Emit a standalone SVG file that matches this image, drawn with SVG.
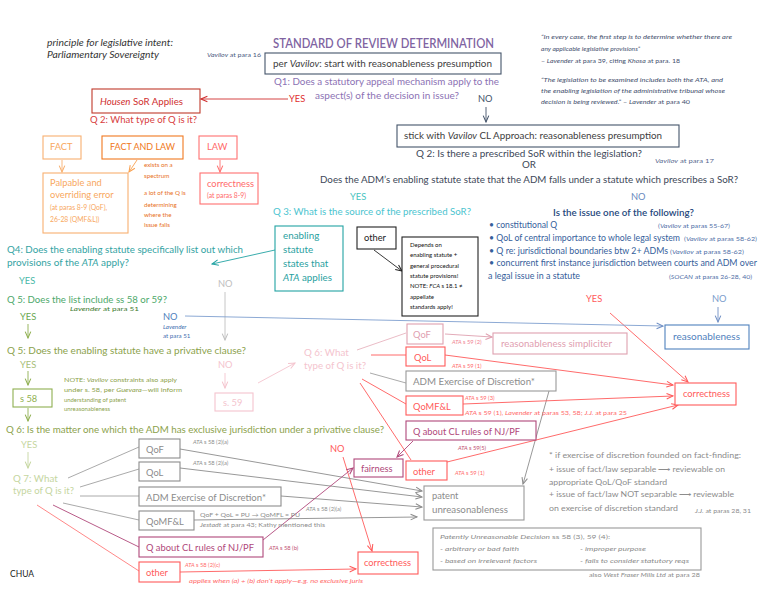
<svg xmlns="http://www.w3.org/2000/svg" width="768" height="594" viewBox="0 0 768 594" font-size="9.3">
<style>
text{font-family:Lato,"Liberation Sans",sans-serif}
.i{font-style:italic}
.q{font-size:9.8px}
.sm{font-size:6.2px}
.xs{font-size:5.8px;font-style:italic}
.b{fill:#fff;stroke-width:1.1}
.c{fill:none;stroke-width:0.9}
</style>
<defs>
<marker id="mr" viewBox="0 0 10 10" refX="9" refY="5" markerWidth="8" markerHeight="8" markerUnits="userSpaceOnUse" orient="auto"><path d="M1,1.5 L9,5 L1,8.5" fill="none" stroke="#FF5A5A" stroke-width="1.3"/></marker>
<marker id="mdr" viewBox="0 0 10 10" refX="9" refY="5" markerWidth="8" markerHeight="8" markerUnits="userSpaceOnUse" orient="auto"><path d="M1,1.5 L9,5 L1,8.5" fill="none" stroke="#D03030" stroke-width="1.3"/></marker>
<marker id="mg" viewBox="0 0 10 10" refX="9" refY="5" markerWidth="8" markerHeight="8" markerUnits="userSpaceOnUse" orient="auto"><path d="M1,1.5 L9,5 L1,8.5" fill="none" stroke="#8C8C8C" stroke-width="1.3"/></marker>
<marker id="mlg" viewBox="0 0 10 10" refX="9" refY="5" markerWidth="8" markerHeight="8" markerUnits="userSpaceOnUse" orient="auto"><path d="M1,1.5 L9,5 L1,8.5" fill="none" stroke="#C0C0C0" stroke-width="1.3"/></marker>
<marker id="mb" viewBox="0 0 10 10" refX="9" refY="5" markerWidth="8" markerHeight="8" markerUnits="userSpaceOnUse" orient="auto"><path d="M1,1.5 L9,5 L1,8.5" fill="none" stroke="#6F8FC4" stroke-width="1.3"/></marker>
<marker id="mdb" viewBox="0 0 10 10" refX="9" refY="5" markerWidth="8" markerHeight="8" markerUnits="userSpaceOnUse" orient="auto"><path d="M1,1.5 L9,5 L1,8.5" fill="none" stroke="#44546A" stroke-width="1.3"/></marker>
<marker id="mt" viewBox="0 0 10 10" refX="9" refY="5" markerWidth="8" markerHeight="8" markerUnits="userSpaceOnUse" orient="auto"><path d="M1,1.5 L9,5 L1,8.5" fill="none" stroke="#22A3A3" stroke-width="1.3"/></marker>
<marker id="mm" viewBox="0 0 10 10" refX="9" refY="5" markerWidth="8" markerHeight="8" markerUnits="userSpaceOnUse" orient="auto"><path d="M1,1.5 L9,5 L1,8.5" fill="none" stroke="#B0487A" stroke-width="1.3"/></marker>
<marker id="mp" viewBox="0 0 10 10" refX="9" refY="5" markerWidth="8" markerHeight="8" markerUnits="userSpaceOnUse" orient="auto"><path d="M1,1.5 L9,5 L1,8.5" fill="none" stroke="#DFA0B0" stroke-width="1.3"/></marker>
<marker id="mlp" viewBox="0 0 10 10" refX="9" refY="5" markerWidth="8" markerHeight="8" markerUnits="userSpaceOnUse" orient="auto"><path d="M1,1.5 L9,5 L1,8.5" fill="none" stroke="#F4C4CE" stroke-width="1.3"/></marker>
<marker id="mo" viewBox="0 0 10 10" refX="9" refY="5" markerWidth="8" markerHeight="8" markerUnits="userSpaceOnUse" orient="auto"><path d="M1,1.5 L9,5 L1,8.5" fill="none" stroke="#F8B070" stroke-width="1.3"/></marker>
<marker id="mof" viewBox="0 0 10 10" refX="9" refY="5" markerWidth="8" markerHeight="8" markerUnits="userSpaceOnUse" orient="auto"><path d="M1,1.5 L9,5 L1,8.5" fill="none" stroke="#F8A050" stroke-width="1.3"/></marker>
<marker id="ml" viewBox="0 0 10 10" refX="9" refY="5" markerWidth="8" markerHeight="8" markerUnits="userSpaceOnUse" orient="auto"><path d="M1,1.5 L9,5 L1,8.5" fill="none" stroke="#FF7070" stroke-width="1.3"/></marker>
<marker id="mol" viewBox="0 0 10 10" refX="9" refY="5" markerWidth="8" markerHeight="8" markerUnits="userSpaceOnUse" orient="auto"><path d="M1,1.5 L9,5 L1,8.5" fill="none" stroke="#8FAF50" stroke-width="1.3"/></marker>
<marker id="moll" viewBox="0 0 10 10" refX="9" refY="5" markerWidth="8" markerHeight="8" markerUnits="userSpaceOnUse" orient="auto"><path d="M1,1.5 L9,5 L1,8.5" fill="none" stroke="#C5D6A0" stroke-width="1.3"/></marker>
<marker id="mk" viewBox="0 0 10 10" refX="9" refY="5" markerWidth="8" markerHeight="8" markerUnits="userSpaceOnUse" orient="auto"><path d="M1,1.5 L9,5 L1,8.5" fill="none" stroke="#222" stroke-width="1.3"/></marker>
</defs>
<rect width="768" height="594" fill="#fff"/>

<g id="connectors" class="c">
<line x1="288" y1="99" x2="201" y2="99" stroke="#D03030" marker-end="url(#mdr)"/>
<line x1="62" y1="160" x2="62" y2="172" stroke="#F8B070" marker-end="url(#mo)"/>
<line x1="137" y1="160" x2="129" y2="172" stroke="#F8A050" marker-end="url(#mof)"/>
<line x1="220" y1="160" x2="220" y2="172" stroke="#FF7070" marker-end="url(#ml)"/>
<line x1="486" y1="107" x2="486" y2="122" stroke="#44546A" marker-end="url(#mdb)"/>
<line x1="275" y1="250" x2="212" y2="264" stroke="#22A3A3" marker-end="url(#mt)"/>
<line x1="374" y1="250" x2="402" y2="271" stroke="#222" marker-end="url(#mk)"/>
<line x1="718" y1="307" x2="718" y2="322" stroke="#6F8FC4" marker-end="url(#mb)"/>
<line x1="610" y1="313" x2="688" y2="382" stroke="#FF5A5A" marker-end="url(#mr)"/>
<line x1="225" y1="292" x2="225" y2="340" stroke="#C0C0C0" marker-end="url(#mlg)"/>
<line x1="28" y1="324" x2="28" y2="338" stroke="#8FAF50" marker-end="url(#mol)"/>
<line x1="185" y1="316" x2="663" y2="326" stroke="#7F9FCF" marker-end="url(#mb)"/>
<line x1="28" y1="371" x2="28" y2="385" stroke="#8FAF50" marker-end="url(#mol)"/>
<line x1="225" y1="373" x2="225" y2="388" stroke="#F4C4CE" marker-end="url(#mlp)"/>
<line x1="28" y1="408" x2="28" y2="421" stroke="#8FAF50" marker-end="url(#mol)"/>
<line x1="258" y1="383" x2="295" y2="363" stroke="#F4C4CE" marker-end="url(#mlp)"/>
<line x1="357" y1="350" x2="406" y2="333" stroke="#E8B4C0"/>
<line x1="371" y1="355" x2="406" y2="355" stroke="#FF5A5A"/>
<line x1="370" y1="373" x2="406" y2="383" stroke="#A0A0A0"/>
<line x1="362" y1="379" x2="406" y2="404" stroke="#FF5A5A"/>
<line x1="360" y1="383" x2="411" y2="460" stroke="#FF5A5A"/>
<line x1="445" y1="334" x2="492" y2="337" stroke="#DFA0B0" marker-end="url(#mp)"/>
<line x1="445" y1="355" x2="673" y2="385" stroke="#FF5A5A" marker-end="url(#mr)"/>
<line x1="549" y1="391" x2="523" y2="484" stroke="#8C8C8C" marker-end="url(#mg)"/>
<line x1="463" y1="404" x2="673" y2="396" stroke="#FF5A5A" marker-end="url(#mr)"/>
<line x1="413" y1="441" x2="397" y2="457" stroke="#B0487A" marker-end="url(#mm)"/>
<line x1="447" y1="462" x2="678" y2="405" stroke="#FF5A5A" marker-end="url(#mr)"/>
<line x1="343" y1="457" x2="372" y2="551" stroke="#FF5A5A" marker-end="url(#mr)"/>
<line x1="28" y1="452" x2="28" y2="468" stroke="#C5D6A0" marker-end="url(#moll)"/>
<line x1="68" y1="478" x2="139" y2="447" stroke="#A0A0A0"/>
<line x1="80" y1="487" x2="139" y2="469" stroke="#A0A0A0"/>
<line x1="80" y1="496" x2="139" y2="496" stroke="#A0A0A0"/>
<line x1="63" y1="503" x2="139" y2="520" stroke="#A0A0A0"/>
<line x1="53" y1="505" x2="139" y2="547" stroke="#B0487A"/>
<line x1="37" y1="505" x2="139" y2="571" stroke="#FF7A7A"/>
<line x1="180" y1="449" x2="422" y2="491" stroke="#8C8C8C" marker-end="url(#mg)"/>
<line x1="180" y1="468" x2="422" y2="497" stroke="#8C8C8C" marker-end="url(#mg)"/>
<line x1="281" y1="496" x2="422" y2="507" stroke="#8C8C8C" marker-end="url(#mg)"/>
<line x1="194" y1="520" x2="417" y2="517" stroke="#8C8C8C" marker-end="url(#mg)"/>
<line x1="263" y1="540" x2="353" y2="468" stroke="#B0487A" marker-end="url(#mm)"/>
<line x1="180" y1="572" x2="356" y2="569" stroke="#FF5A5A" marker-end="url(#mr)"/>
</g>

<g id="title">
<text x="273" y="48" font-size="13.5" font-weight="600" fill="#8064A2" textLength="221" lengthAdjust="spacingAndGlyphs">STANDARD OF REVIEW DETERMINATION</text>
</g>
<g id="principle">
<text class="i" x="47" y="46" font-size="8.6" fill="#333" textLength="126" lengthAdjust="spacingAndGlyphs">principle for legislative intent:</text>
<text class="i" x="47" y="58" font-size="8.6" fill="#333" textLength="112" lengthAdjust="spacingAndGlyphs">Parliamentary Sovereignty</text>
</g>
<g id="quotes">
<text class="i" x="541" y="39" font-size="6.4" fill="#44506E" textLength="191" lengthAdjust="spacingAndGlyphs">“In every case, the first step is to determine whether there are</text>
<text class="i" x="541" y="51" font-size="6.4" fill="#44506E" textLength="99" lengthAdjust="spacingAndGlyphs">any applicable legislative provisions”</text>
<text x="541" y="63" font-size="6.4" fill="#44506E" textLength="139" lengthAdjust="spacingAndGlyphs">–  <tspan class="i">Lavender</tspan> at para 39, citing <tspan class="i">Khosa</tspan> at para. 18</text>
<text class="i" x="541" y="82" font-size="6.4" fill="#44506E" textLength="182" lengthAdjust="spacingAndGlyphs">“The legislation to be examined includes both the ATA, and</text>
<text class="i" x="541" y="93" font-size="6.4" fill="#44506E" textLength="184" lengthAdjust="spacingAndGlyphs">the enabling legislation of the administrative tribunal whose</text>
<text x="541" y="104" font-size="6.4" fill="#44506E" textLength="149" lengthAdjust="spacingAndGlyphs"><tspan class="i">decision is being reviewed.”</tspan> – <tspan class="i">Lavender</tspan> at para 40</text>
</g>

<g id="start">
<text class="sm" x="207" y="57" fill="#4A5A80" textLength="54" lengthAdjust="spacingAndGlyphs"><tspan class="i">Vavilov</tspan> at para 16</text>
<rect class="b" x="265" y="53" width="236" height="21" stroke="#44546A"/>
<text x="273" y="67" fill="#404040" textLength="219" lengthAdjust="spacingAndGlyphs">per <tspan class="i">Vavilov</tspan>: start with reasonableness presumption</text>
</g>
<g id="q1">
<text class="q" x="274" y="85" fill="#8C72B4" textLength="225" lengthAdjust="spacingAndGlyphs">Q1: Does a statutory appeal mechanism apply to the</text>
<text class="q" x="315" y="99" fill="#8C72B4" textLength="144" lengthAdjust="spacingAndGlyphs">aspect(s) of the decision in issue?</text>
<text x="289" y="102" fill="#E03030">YES</text>
<text x="478" y="102" fill="#44546A">NO</text>
</g>
<g id="housen">
<rect class="b" x="92" y="89" width="108" height="24" stroke="#C0392B"/>
<text x="100" y="105" fill="#D03030" textLength="83" lengthAdjust="spacingAndGlyphs"><tspan class="i">Housen</tspan> SoR Applies</text>
<text class="q" x="90" y="123" fill="#D84040" textLength="107" lengthAdjust="spacingAndGlyphs">Q 2: What type of Q is it?</text>
</g>
<g id="fact">
<rect class="b" x="43" y="136" width="38" height="23" stroke="#F8B070"/>
<text x="50" y="150" fill="#F8A860">FACT</text>
</g>
<g id="factlaw">
<rect class="b" x="102" y="136" width="81" height="23" stroke="#F07820"/>
<text x="110" y="150" fill="#F07820" textLength="65" lengthAdjust="spacingAndGlyphs">FACT AND LAW</text>
</g>
<g id="law">
<rect class="b" x="199" y="136" width="38" height="23" stroke="#FF7070"/>
<text x="207" y="150" fill="#FF6A6A">LAW</text>
</g>
<g id="palpable">
<rect class="b" x="43" y="173" width="85" height="60" stroke="#F8B070"/>
<text x="50" y="186" fill="#F8A860">Palpable and</text>
<text x="50" y="198" fill="#F8A860">overriding error</text>
<text x="50" y="210" font-size="6.8" fill="#F8A860">(at paras 8-9 (QoF),</text>
<text x="50" y="222" font-size="6.8" fill="#F8A860">26-28 (QMF&amp;L))</text>
</g>
<g id="spectrum">
<text class="sm" x="144" y="167" fill="#E8701A">exists on a</text>
<text class="sm" x="144" y="178" fill="#E8701A">spectrum</text>
<text class="sm" x="144" y="195" fill="#E8701A">a lot of the Q is</text>
<text class="sm" x="144" y="207" fill="#E8701A">determining</text>
<text class="sm" x="144" y="217" fill="#E8701A">where the</text>
<text class="sm" x="144" y="227" fill="#E8701A">issue falls</text>
</g>
<g id="correctness-law">
<rect class="b" x="200" y="173" width="58" height="31" stroke="#FF7070"/>
<text x="207" y="187" fill="#FF6A6A">correctness</text>
<text x="207" y="198" font-size="6.8" fill="#FF6A6A">(at paras 8-9)</text>
</g>

<g id="stick">
<rect class="b" x="397" y="125" width="282" height="22" stroke="#44546A"/>
<text x="404" y="139" fill="#404040" textLength="258" lengthAdjust="spacingAndGlyphs">stick with <tspan class="i">Vavilov</tspan> CL Approach: reasonableness presumption</text>
</g>
<g id="q2">
<text class="q" x="416" y="157" fill="#404858" textLength="226" lengthAdjust="spacingAndGlyphs">Q 2: Is there a prescribed SoR within the legislation?</text>
<text class="q" x="522" y="168" fill="#404858">OR</text>
<text class="sm" x="655" y="163" fill="#5A6A90" textLength="59" lengthAdjust="spacingAndGlyphs"><tspan class="i">Vavilov</tspan> at para 17</text>
<text class="q" x="320" y="183" fill="#404858" textLength="418" lengthAdjust="spacingAndGlyphs">Does the ADM’s enabling statute state that the ADM falls under a statute which prescribes a SoR?</text>
<text x="350" y="200" fill="#48C4C0">YES</text>
<text x="631" y="200" fill="#6A8AC0">NO</text>
</g>
<g id="q3">
<text class="q" x="273" y="215" fill="#4CC4CF" textLength="198" lengthAdjust="spacingAndGlyphs">Q 3: What is the source of the prescribed SoR?</text>
</g>
<g id="enabling">
<rect class="b" x="275" y="226" width="68" height="65" stroke="#22A3A3"/>
<text class="q" x="283" y="239" fill="#2A9F9F">enabling</text>
<text class="q" x="283" y="253" fill="#2A9F9F">statute</text>
<text class="q" x="283" y="267" fill="#2A9F9F">states that</text>
<text class="q" x="283" y="281" fill="#2A9F9F"><tspan class="i">ATA</tspan> applies</text>
</g>
<g id="other-src">
<rect class="b" x="357" y="227" width="39" height="22" stroke="#222"/>
<text x="364" y="241" fill="#222">other</text>
</g>
<g id="note-depends">
<rect class="b" x="402" y="237" width="76" height="79" stroke="#222" stroke-width="1.3"/>
<text x="410" y="247" font-size="6" fill="#111">Depends on</text>
<text x="410" y="257" font-size="6" fill="#111">enabling statute +</text>
<text x="410" y="268" font-size="6" fill="#111">general procedural</text>
<text x="410" y="278" font-size="6" fill="#111">statute provisions!</text>
<text x="410" y="288" font-size="6" fill="#111">NOTE: <tspan class="i">FCA</tspan> s 18.1 ≠</text>
<text x="410" y="299" font-size="6" fill="#111">appellate</text>
<text x="410" y="309" font-size="6" fill="#111">standards apply!</text>
</g>
<g id="issue-list">
<text x="553" y="216" font-size="10" font-weight="600" fill="#1F497D" textLength="141" lengthAdjust="spacingAndGlyphs">Is the issue one of the following?</text>
<text x="489" y="228" font-size="8.6" fill="#35609B">• constitutional Q</text>
<text x="658" y="228" font-size="5.6" fill="#5070A8" textLength="72" lengthAdjust="spacingAndGlyphs">(<tspan class="i">Vavilov</tspan> at paras 55-67)</text>
<text x="489" y="241" font-size="8.6" fill="#35609B" textLength="191" lengthAdjust="spacingAndGlyphs">• QoL of central importance to whole legal system</text>
<text x="684" y="241" font-size="5.6" fill="#5070A8" textLength="73" lengthAdjust="spacingAndGlyphs">(<tspan class="i">Vavilov</tspan> at paras 58-62)</text>
<text x="489" y="254" font-size="8.6" fill="#35609B" textLength="179" lengthAdjust="spacingAndGlyphs">• Q re: jurisdictional boundaries btw 2+ ADMs</text>
<text x="670" y="254" font-size="5.6" fill="#5070A8" textLength="74" lengthAdjust="spacingAndGlyphs">(<tspan class="i">Vavilov</tspan> at paras 58-62)</text>
<text x="489" y="266" font-size="8.6" fill="#35609B" textLength="268" lengthAdjust="spacingAndGlyphs">• concurrent first instance jurisdiction between courts and ADM over</text>
<text x="488" y="279" font-size="8.6" fill="#35609B" textLength="92" lengthAdjust="spacingAndGlyphs">a legal issue in a statute</text>
<text x="669" y="279" font-size="5.6" fill="#5070A8" textLength="83" lengthAdjust="spacingAndGlyphs">(<tspan class="i">SOCAN</tspan> at paras 26-28, 40)</text>
<text x="586" y="302" fill="#FF5A5A">YES</text>
<text x="712" y="302" fill="#7C9CCC">NO</text>
</g>
<g id="reasonableness">
<rect class="b" x="665" y="325" width="84" height="24" stroke="#4F81BD"/>
<text x="673" y="340" fill="#4F81BD" textLength="67" lengthAdjust="spacingAndGlyphs">reasonableness</text>
</g>
<g id="correctness-main">
<rect class="b" x="675" y="383" width="61" height="22" stroke="#FF5A5A" stroke-width="1.3"/>
<text x="683" y="397" fill="#FF5A5A" textLength="47" lengthAdjust="spacingAndGlyphs">correctness</text>
</g>

<g id="q4">
<text class="q" x="7" y="253" fill="#33A3A3" textLength="236" lengthAdjust="spacingAndGlyphs">Q4: Does the enabling statute specifically list out which</text>
<text class="q" x="7" y="266" fill="#33A3A3" textLength="122" lengthAdjust="spacingAndGlyphs">provisions of the <tspan class="i">ATA</tspan> apply?</text>
<text x="19" y="284" fill="#48B8A8">YES</text>
<text x="218" y="287" fill="#C0C0C0">NO</text>
</g>
<g id="q5-list">
<text class="q" x="7" y="303" fill="#4DA86A" textLength="160" lengthAdjust="spacingAndGlyphs">Q 5: Does the list include ss 58 or 59?</text>
<text class="sm" x="70" y="311" fill="#3E7A2E" textLength="69" lengthAdjust="spacingAndGlyphs"><tspan class="i">Lavender</tspan> at para 51</text>
<text x="20" y="320" fill="#6AA84F">YES</text>
<text x="163" y="320" fill="#4F81BD">NO</text>
<text class="sm i" x="163" y="329" fill="#3F6FB0">Lavender</text>
<text class="sm" x="163" y="338" fill="#3F6FB0">at para 51</text>
</g>
<g id="q5-privative">
<text class="q" x="7" y="354" fill="#8CA24C" textLength="239" lengthAdjust="spacingAndGlyphs">Q 5: Does the enabling statute have a privative clause?</text>
<text x="20" y="368" fill="#A8BE78">YES</text>
<text x="218" y="368" fill="#F4C4CE">NO</text>
<text x="64" y="382" font-size="5.9" fill="#8CA24C" textLength="113" lengthAdjust="spacingAndGlyphs">NOTE: <tspan class="i">Vavilov</tspan> constraints also apply</text>
<text x="64" y="392" font-size="5.9" fill="#8CA24C" textLength="118" lengthAdjust="spacingAndGlyphs">under s. 58, per <tspan class="i">Guevara</tspan>—will inform</text>
<text x="64" y="402" font-size="5.9" fill="#8CA24C">understanding of patent</text>
<text x="64" y="411" font-size="5.9" fill="#8CA24C">unreasonableness</text>
</g>
<g id="s58">
<rect class="b" x="13" y="389" width="39" height="18" stroke="#8FAF50"/>
<text x="20" y="402" fill="#8FAF50">s 58</text>
</g>
<g id="s59">
<rect class="b" x="215" y="393" width="38" height="18" stroke="#F4C4CE"/>
<text x="223" y="406" fill="#F4C4CE">s. 59</text>
</g>
<g id="q6-type">
<text class="q" x="304" y="356" fill="#F4C4CE">Q 6: What</text>
<text class="q" x="304" y="369" fill="#F4C4CE" textLength="62" lengthAdjust="spacingAndGlyphs">type of Q is it?</text>
</g>
<g id="q6-qof">
<rect class="b" x="407" y="324" width="36" height="20" stroke="#DFA0B0"/>
<text x="413" y="338" fill="#DFA0B0">QoF</text>
<text class="xs" x="452" y="344" fill="#F08090">ATA <tspan font-style="normal">s 59 (2)</tspan></text>
</g>
<g id="simpliciter">
<rect class="b" x="493" y="333" width="134" height="21" stroke="#DFA0B0"/>
<text x="501" y="347" fill="#DFA0B0" textLength="111" lengthAdjust="spacingAndGlyphs">reasonableness simpliciter</text>
</g>
<g id="q6-qol">
<rect class="b" x="406" y="347" width="39" height="19" stroke="#FF5A5A" stroke-width="1.3"/>
<text x="414" y="361" fill="#FF5A5A">QoL</text>
<text class="xs" x="452" y="368" fill="#FF6A6A">ATA <tspan font-style="normal">s 59 (1)</tspan></text>
</g>
<g id="q6-adm">
<rect class="b" x="406" y="371" width="150" height="20" stroke="#999"/>
<text x="413" y="385" fill="#8C8C8C" textLength="122" lengthAdjust="spacingAndGlyphs">ADM Exercise of Discretion*</text>
</g>
<g id="q6-qomfl">
<rect class="b" x="406" y="396" width="57" height="19" stroke="#FF5A5A" stroke-width="1.3"/>
<text x="413" y="410" fill="#FF5A5A">QoMF&amp;L</text>
<text class="xs" x="465" y="400" fill="#FF6A6A">ATA <tspan font-style="normal">s 59 (3)</tspan></text>
<text class="xs" x="465" y="415" fill="#FF6A6A" textLength="162" lengthAdjust="spacingAndGlyphs">ATA <tspan font-style="normal">s 59 (1), </tspan>Lavender<tspan font-style="normal"> at paras 53, 58; </tspan>J.J.<tspan font-style="normal"> at para 25</tspan></text>
</g>
<g id="q6-cl">
<rect class="b" x="406" y="421" width="130" height="19" stroke="#B0487A"/>
<text x="413" y="435" fill="#B0487A" textLength="107" lengthAdjust="spacingAndGlyphs">Q about CL rules of NJ/PF</text>
<text class="xs" x="458" y="450" fill="#C05070">ATA <tspan font-style="normal">s 59(5)</tspan></text>
</g>
<g id="q6-other">
<rect class="b" x="406" y="461" width="41" height="19" stroke="#FF5A5A" stroke-width="1.3"/>
<text x="413" y="475" fill="#FF5A5A">other</text>
<text class="xs" x="455" y="475" fill="#FF6A6A">ATA <tspan font-style="normal">s 59 (1)</tspan></text>
</g>
<g id="fairness">
<rect class="b" x="354" y="459" width="49" height="18" stroke="#B0487A" stroke-width="1.3"/>
<text x="361" y="472" fill="#B0487A">fairness</text>
</g>
<g id="q6-exclusive">
<text class="q" x="6" y="433" fill="#8CA24C" textLength="378" lengthAdjust="spacingAndGlyphs">Q 6: Is the matter one which the ADM has exclusive jurisdiction under a privative clause?</text>
<text x="21" y="448" fill="#C5D6A0">YES</text>
<text x="330" y="452" fill="#FF5A5A">NO</text>
</g>
<g id="correctness-bottom">
<rect class="b" x="358" y="552" width="60" height="22" stroke="#FF5A5A" stroke-width="1.3"/>
<text x="364" y="566" fill="#FF5A5A" textLength="47" lengthAdjust="spacingAndGlyphs">correctness</text>
</g>
<g id="patent">
<rect class="b" x="424" y="486" width="100" height="34" stroke="#999"/>
<text x="432" y="499" fill="#8C8C8C">patent</text>
<text x="432" y="513" fill="#8C8C8C" textLength="76" lengthAdjust="spacingAndGlyphs">unreasonableness</text>
</g>
<g id="footnote">
<text x="549" y="458" font-size="8" fill="#8C8C8C" textLength="192" lengthAdjust="spacingAndGlyphs">* if exercise of discretion founded on fact-finding:</text>
<text x="549" y="472" font-size="8" fill="#8C8C8C" textLength="176" lengthAdjust="spacingAndGlyphs">+ issue of fact/law separable ⟶ reviewable on</text>
<text x="549" y="485" font-size="8" fill="#8C8C8C" textLength="118" lengthAdjust="spacingAndGlyphs">appropriate QoL/QoF standard</text>
<text x="549" y="497" font-size="8" fill="#8C8C8C" textLength="185" lengthAdjust="spacingAndGlyphs">+ issue of fact/law NOT separable ⟶ reviewable</text>
<text x="549" y="511" font-size="8" fill="#8C8C8C" textLength="129" lengthAdjust="spacingAndGlyphs">on exercise of discretion standard</text>
<text x="695" y="513" font-size="5.6" fill="#8C8C8C" textLength="56" lengthAdjust="spacingAndGlyphs"><tspan class="i">J.J.</tspan> at paras 28, 31</text>
</g>
<g id="pu-box">
<rect class="b" x="433" y="528" width="268" height="42" stroke="#999"/>
<text x="440" y="539" font-size="6.3" fill="#8C8C8C" textLength="170" lengthAdjust="spacingAndGlyphs"><tspan class="i">Patently Unreasonable Decision</tspan> ss 58 (3), 59 (4):</text>
<text class="i" x="440" y="551" font-size="6.3" fill="#8C8C8C" textLength="79" lengthAdjust="spacingAndGlyphs">- arbitrary or bad faith</text>
<text class="i" x="440" y="563" font-size="6.3" fill="#8C8C8C" textLength="97" lengthAdjust="spacingAndGlyphs">- based on irrelevant factors</text>
<text class="i" x="580" y="551" font-size="6.3" fill="#8C8C8C" textLength="66" lengthAdjust="spacingAndGlyphs">- improper purpose</text>
<text class="i" x="580" y="563" font-size="6.3" fill="#8C8C8C" textLength="109" lengthAdjust="spacingAndGlyphs">- fails to consider statutory reqs</text>
<text x="589" y="577" font-size="5.6" fill="#8C8C8C" textLength="111" lengthAdjust="spacingAndGlyphs">also <tspan class="i">West Fraser Mills Ltd</tspan> at para 28</text>
</g>
<g id="q7">
<text class="q" x="13" y="482" fill="#C5D6A0">Q 7: What</text>
<text class="q" x="13" y="494" fill="#C5D6A0" textLength="61" lengthAdjust="spacingAndGlyphs">type of Q is it?</text>
</g>
<g id="q7-qof">
<rect class="b" x="139" y="439" width="41" height="19" stroke="#8C8C8C"/>
<text x="146" y="453" fill="#8C8C8C">QoF</text>
<text class="xs" x="193" y="444" fill="#8C8C8C">ATA <tspan font-style="normal">s 58 (2)(a)</tspan></text>
</g>
<g id="q7-qol">
<rect class="b" x="139" y="462" width="41" height="19" stroke="#8C8C8C"/>
<text x="146" y="476" fill="#8C8C8C">QoL</text>
<text class="xs" x="193" y="465" fill="#8C8C8C">ATA <tspan font-style="normal">s 58 (2)(a)</tspan></text>
</g>
<g id="q7-adm">
<rect class="b" x="139" y="487" width="142" height="19" stroke="#8C8C8C"/>
<text x="146" y="501" fill="#8C8C8C" textLength="120" lengthAdjust="spacingAndGlyphs">ADM Exercise of Discretion*</text>
<text class="xs" x="306" y="511" fill="#8C8C8C">ATA <tspan font-style="normal">s 58 (2)(a)</tspan></text>
</g>
<g id="q7-qomfl">
<rect class="b" x="139" y="511" width="55" height="19" stroke="#8C8C8C"/>
<text x="146" y="525" fill="#8C8C8C">QoMF&amp;L</text>
<text x="200" y="517" font-size="5.7" fill="#8C8C8C" textLength="100" lengthAdjust="spacingAndGlyphs">QoF + QoL = PU →  QoMFL = PU</text>
<text x="200" y="527" font-size="5.7" fill="#8C8C8C" textLength="125" lengthAdjust="spacingAndGlyphs"><tspan class="i">Jestadt</tspan> at para 43; Kathy mentioned this</text>
</g>
<g id="q7-cl">
<rect class="b" x="139" y="537" width="124" height="20" stroke="#B0487A"/>
<text x="146" y="551" fill="#B0487A" textLength="108" lengthAdjust="spacingAndGlyphs">Q about CL rules of NJ/PF</text>
<text class="xs" x="269" y="550" fill="#C05070">ATA <tspan font-style="normal">s 58 (b)</tspan></text>
</g>
<g id="q7-other">
<rect class="b" x="139" y="562" width="41" height="20" stroke="#FF5A5A"/>
<text x="146" y="576" fill="#FF5A5A">other</text>
<text class="xs" x="185" y="567" fill="#FF6A6A">ATA <tspan font-style="normal">s 58 (2)(c)</tspan></text>
<text class="xs" x="189" y="583" fill="#FF6A6A" textLength="174" lengthAdjust="spacingAndGlyphs">applies when (a) + (b) don’t apply—e.g. no exclusive juris</text>
</g>
<g id="author">
<text x="10" y="577" font-size="8.5" fill="#222">CHUA</text>
</g>
</svg>
